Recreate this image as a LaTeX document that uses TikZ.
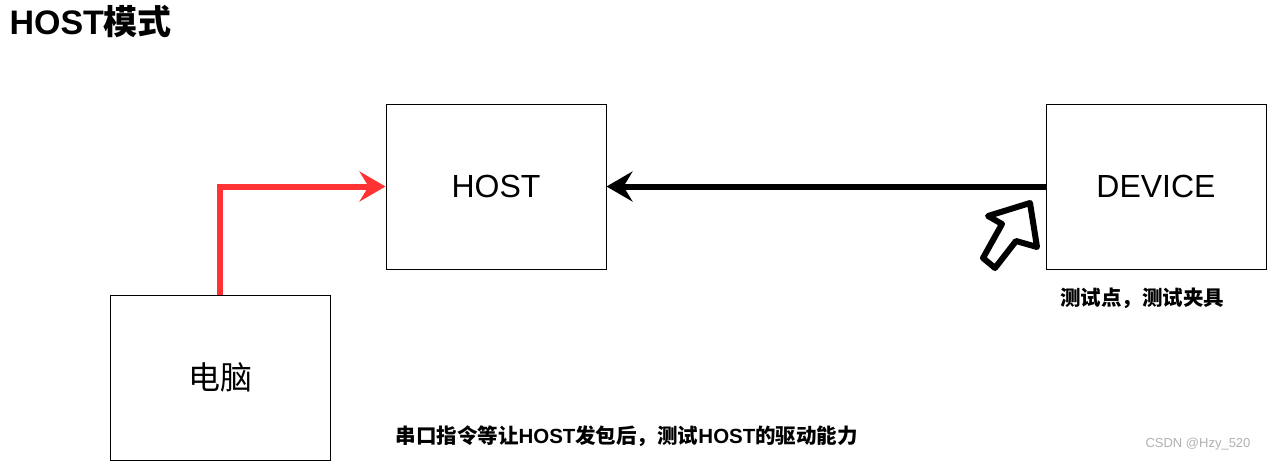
\documentclass[tikz,border=0pt]{standalone}
\usepackage{fontspec}
\setmainfont{Liberation Sans}
\newfontfamily\cjk{Noto Sans CJK SC}
\usetikzlibrary{arrows.meta}
\begin{document}
\begin{tikzpicture}[x=1pt,y=-1pt,
  box/.style={draw,line width=1pt,minimum width=220pt,minimum height=165pt,inner sep=0pt,font=\fontsize{32}{35}\selectfont},
  conn/.style={line width=6pt,-{Stealth[length=26pt,width=30pt,inset=9pt]}}]
\useasboundingbox[fill=white] (0,0) rectangle (1268,461);
\node[anchor=west,font=\bfseries\fontsize{34}{37}\selectfont] (title) at (6,22) {HOST{\cjk 模式}};
\node[box] (host) at (496,186.5) {HOST};
\node[box] (dev) at (1156,186.5) {DEVICE};
\node[box] (pc) at (220,377.5) {\cjk 电脑};
\draw[conn,red!80!white,line cap=butt] (pc.north) |- (host.west);
\draw[conn] (dev.west) -- (host.east);
\draw[line width=6pt,line join=round] (1030,203) -- (988,216) -- (1002,224) -- (983,258) -- (995,268) -- (1016,241) -- (1037,247) -- cycle;
\node[font=\cjk\bfseries\fontsize{20.5}{23}\selectfont] (l1) at (1142,298) {测试点，测试夹具};
\node[font=\bfseries\fontsize{20.5}{23}\selectfont,anchor=west] (l2) at (392,436) {{\cjk 串口指令等让}HOST{\cjk 发包后，测试}HOST{\cjk 的驱动能力}};
\node[font=\fontsize{13}{15}\selectfont,text=gray!60,anchor=east] (wm) at (1254,444) {CSDN @Hzy\_520};
\end{tikzpicture}
\end{document}
